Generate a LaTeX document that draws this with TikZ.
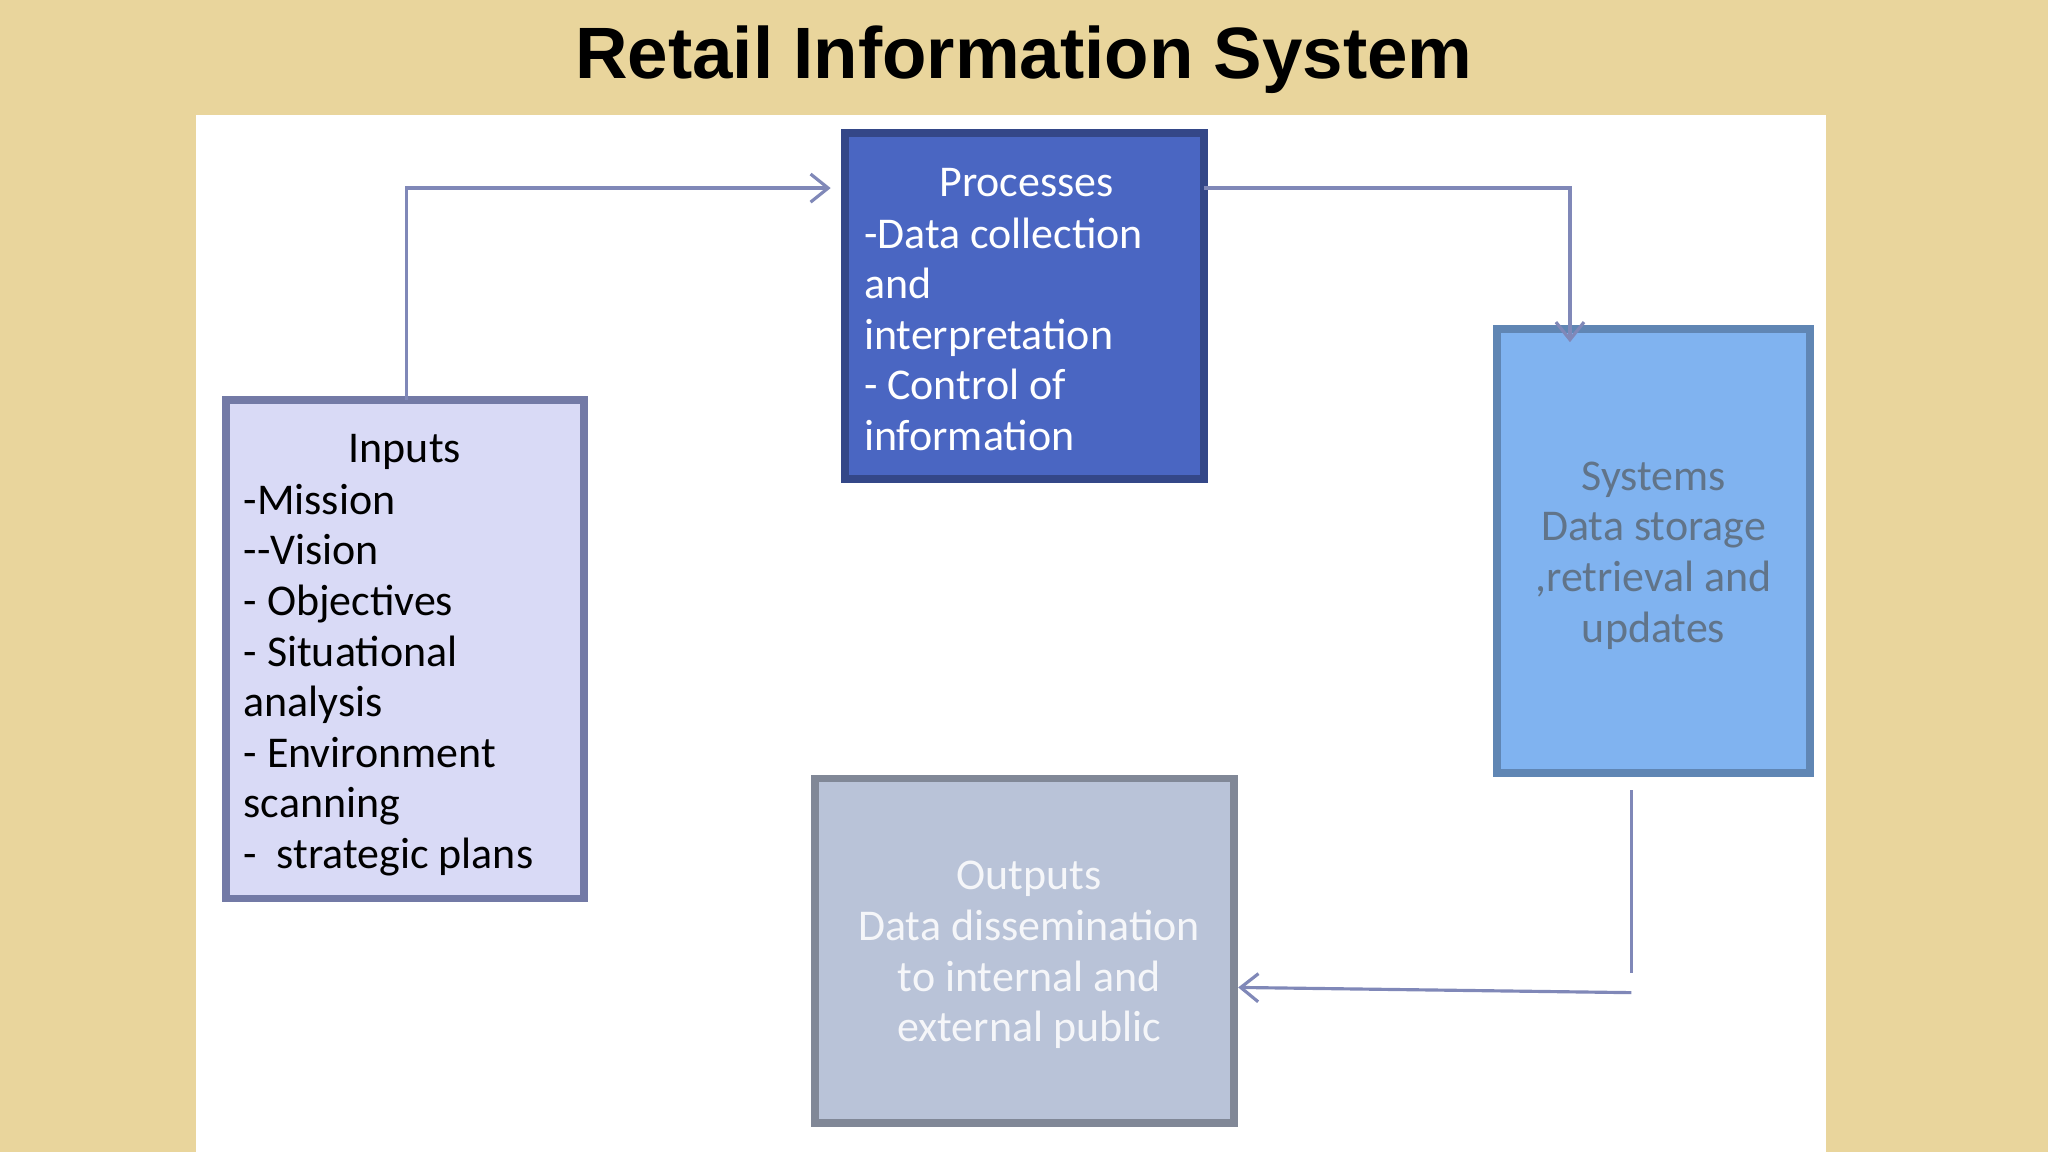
\documentclass[tikz,border=0pt]{standalone}
\usepackage{fontspec}
\setmainfont{Carlito}
\newfontfamily\titlefont{Liberation Sans}
\usetikzlibrary{arrows.meta}
\definecolor{bgtan}{HTML}{E9D59C}
\definecolor{procfill}{HTML}{4A66C2}
\definecolor{inpfill}{HTML}{D9DAF6}
\definecolor{sysfill}{HTML}{80B3F0}
\definecolor{outfill}{HTML}{B9C3D8}
\definecolor{linec}{HTML}{8088B8}
\tikzset{
 box/.style={draw, line width=2.2pt, inner sep=0pt, outer sep=0pt},
 txt/.style={font=\fontsize{12.5}{14.4}\selectfont, inner sep=0pt},
 conn/.style={draw=linec, line width=0.9pt, -{Straight Barb[length=5pt,width=8pt]}},
 connplain/.style={draw=linec, line width=0.9pt}
}
\begin{document}
\begin{tikzpicture}[x=0.01306cm,y=-0.01306cm]
\useasboundingbox (0,0) rectangle (1568,882);
\fill[bgtan] (0,0) rectangle (1568,882);
\fill[white] (150,88) rectangle (1398,882);
\node[font=\titlefont\bfseries\fontsize{20.7}{24}\selectfont] (title) at (784,46) {Retail Information System};
\draw[box, draw=procfill!70!black, fill=procfill] (647,102) rectangle (922,367);
\node[box, draw=none, minimum width=275*0.01306cm, minimum height=265*0.01306cm, anchor=north west] (proc) at (647,102) {};
\node[txt, text=white] (proch) at (786,140) {Processes};
\node[txt, text=white, align=left, anchor=north west] (proct) at (661,166) {-Data collection\\and\\interpretation\\- Control of\\information};
\draw[box, draw=linec!90!black, fill=inpfill] (173,306) rectangle (447,688);
\node[box, draw=none, minimum width=274*0.01306cm, minimum height=382*0.01306cm, anchor=north west] (inp) at (173,306) {};
\node[txt] (inph) at (310,346) {Inputs};
\node[txt, align=left, anchor=north west] (inpt) at (186,370) {-Mission\\-{}-Vision\\- Objectives\\- Situational\\analysis\\- Environment\\scanning\\-\ \ strategic plans};
\draw[box, draw=sysfill!75!black, fill=sysfill] (1146,252) rectangle (1386,592);
\node[box, draw=none, minimum width=240*0.01306cm, minimum height=340*0.01306cm, anchor=north west] (sys) at (1146,252) {};
\node[txt, align=center, text=sysfill!45!black!80, anchor=north] (syst) at (1266,353) {Systems\\Data storage\\,retrieval and\\updates};
\draw[box, draw=outfill!70!black, fill=outfill] (624,596) rectangle (945,860);
\node[box, draw=none, minimum width=321*0.01306cm, minimum height=264*0.01306cm, anchor=north west] (out) at (624,596) {};
\node[txt, align=center, text=white!85!outfill, anchor=north] (outt) at (788,659) {Outputs\\Data dissemination\\to internal and\\external public};
\coordinate (a1) at (311,144);
\coordinate (a2) at (636,144);
\coordinate (b1) at (1202,144);
\coordinate (b2) at (1202,262);
\coordinate (c0) at (1249,605);
\coordinate (c1) at (1249,760);
\coordinate (c2) at (948,756);
\draw[conn] (inp.north -| a1) -- (a1) -- (a2);
\draw[conn] (proc.east |- b1) -- (b1) -- (b2);
\draw[connplain] (c0) -- (1249,745);
\draw[conn] (c1) -- (c2);
\end{tikzpicture}
\end{document}
